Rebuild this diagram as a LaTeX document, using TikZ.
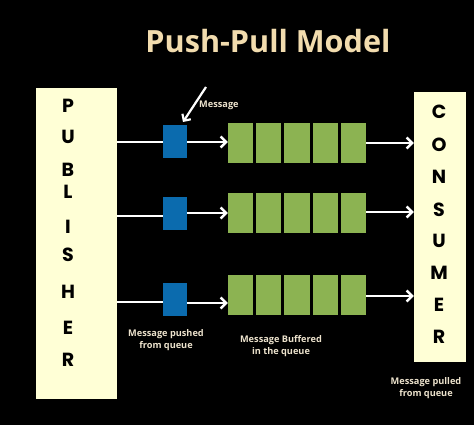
\documentclass[tikz,border=0pt]{standalone}
\usepackage{fontspec}
\setmainfont{Open Sans}
\newfontfamily\letterfont{Poppins}
\usetikzlibrary{arrows.meta}
\definecolor{boxfill}{HTML}{FFFFD6}
\definecolor{qgreen}{HTML}{8CB352}
\definecolor{qblue}{HTML}{0B6BAE}
\definecolor{cream}{HTML}{ECE2CC}
\definecolor{titlecol}{HTML}{F2DCAE}
\tikzset{
  bigbox/.style={draw=none, fill=boxfill, minimum width=#1, inner sep=0pt},
  letter/.style={font=\letterfont\fontsize{19}{24}\selectfont\bfseries, text=black, inner sep=0pt},
  msgbox/.style={fill=qblue, minimum width=24pt, minimum height=33pt, inner sep=0pt},
  cell/.style={fill=qgreen, minimum width=25.2pt, minimum height=40pt, inner sep=0pt},
  wline/.style={draw=white, line width=2.7pt},
  warrow/.style={wline, -{Straight Barb[length=5.5pt,width=11pt,line width=2.4pt]}},
  note/.style={font=\fontsize{9.2}{12.5}\selectfont\bfseries, text=cream, align=center, inner sep=0pt},
}
\begin{document}
\begin{tikzpicture}[x=1pt,y=-1pt]
\fill[black] (0,0) rectangle (474,425);
\useasboundingbox (0,0) rectangle (474,425);

\node[font=\fontsize{30.6}{36}\selectfont\bfseries, text=titlecol, inner sep=0pt] (title) at (268,41) {Push-Pull Model};

\node[bigbox=81pt, minimum height=311pt] (pub) at (76.5,243.5) {};
\node[bigbox=52pt, minimum height=270pt] (con) at (440,227) {};

\foreach \l/\y [count=\i] in {P/106,U/137,B/170,L/192,I/227,S/255,H/292,E/328,R/360}
  \node[letter] (pl\i) at (68,\y) {\l};
\foreach \l/\y [count=\i] in {C/112,O/145,N/177,S/210,U/241,M/273,E/305,R/337}
  \node[letter] (cl\i) at (439,\y) {\l};

% rows: row / blue y / green y / out arrow y
\foreach \r/\by/\gy/\oy in {1/142/143/143, 2/213/213/212, 3/299/295/296} {
  \node[msgbox] (b\r) at (175,\by) {};
  \foreach \i in {0,...,4}
    \node[cell] (g\r-\i) at ({240.6+28.2*\i},\gy) {};
  \coordinate (o\r) at (366,\oy);
}

\draw[wline] (pub.east |- b1.west) -- (b1.west);
\draw[wline] (pub.east |- 0,216) -- (b2.west |- 0,216);
\draw[wline] (pub.east |- 0,302) -- (b3.west |- 0,302);

\draw[warrow] (b1.east) -- (g1-0.west |- b1.east);
\draw[warrow] (b2.east) -- (g2-0.west |- b2.east);
\draw[warrow] (b3.east |- 0,303) -- (g3-0.west |- 0,303);

\draw[warrow] (o1) -- (con.west |- o1);
\draw[warrow] (o2) -- (con.west |- o2);
\draw[warrow] (o3) -- (con.west |- o3);

\coordinate (mstart) at (206,87);
\coordinate (mend) at (183,122);
\draw[draw=white, line width=2.2pt, -{Straight Barb[length=5pt,width=10pt,line width=2.2pt]}] (mstart) -- (mend);
\node[note, anchor=west] (mlabel) at (199,105) {Message};

\node[note] (pushed) at (166,340) {Message pushed\\from queue};
\node[note] (buffered) at (281,346) {Message Buffered\\in the queue};
\node[note] (pulled) at (426,388) {Message pulled\\from queue};
\end{tikzpicture}
\end{document}
